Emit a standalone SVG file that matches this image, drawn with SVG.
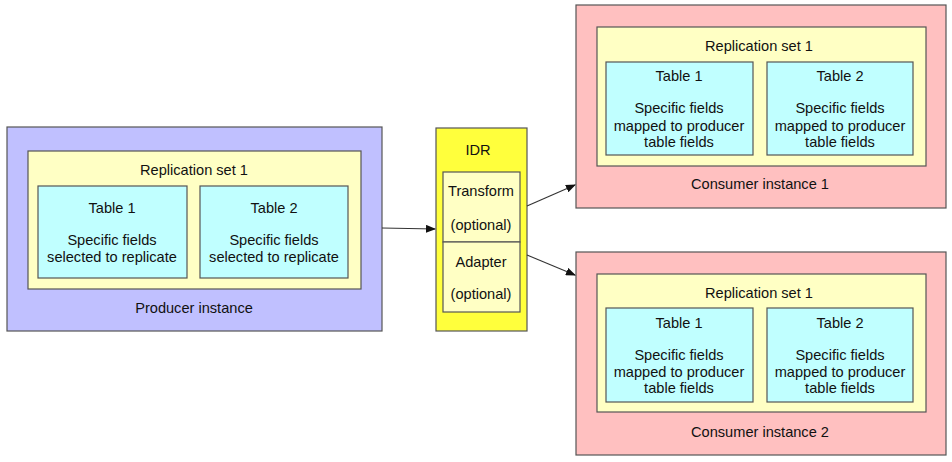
<svg xmlns="http://www.w3.org/2000/svg" width="952" height="462" viewBox="0 0 952 462">
<style>
.box{stroke:#555;stroke-width:1.2}
.prod{fill:#c0c0ff}
.cons{fill:#ffc0c0}
.set{fill:#ffffc4}
.tbl{fill:#c0ffff}
.idr{fill:#ffff3c}
.idrin{fill:#ffffc4}
text{font-family:"Liberation Sans",Arial,Helvetica,sans-serif;font-size:14.6px;fill:#111;text-anchor:middle}
.conn{stroke:#333;stroke-width:1.1;fill:none;marker-end:url(#ah)}
</style>
<defs>
<marker id="ah" markerWidth="10" markerHeight="8" refX="9" refY="4" orient="auto" markerUnits="userSpaceOnUse">
<path d="M0,0 L10,4 L0,8 Z" fill="#111"/>
</marker>
</defs>
<rect width="952" height="462" fill="#fff"/>
<g id="producer">
<rect class="box prod" x="7" y="127" width="375" height="204"/>
<rect class="box set" x="28" y="151" width="333" height="138"/>
<text x="194" y="175">Replication set 1</text>
<rect class="box tbl" x="38" y="186" width="149" height="92"/>
<text x="112" y="213">Table 1</text>
<text x="112" y="245">Specific fields</text>
<text x="112" y="262">selected to replicate</text>
<rect class="box tbl" x="200" y="186" width="148" height="92"/>
<text x="274" y="213">Table 2</text>
<text x="274" y="245">Specific fields</text>
<text x="274" y="262">selected to replicate</text>
<text x="194" y="313">Producer instance</text>
</g>
<g id="idr">
<rect class="box idr" x="436" y="128" width="91" height="203"/>
<text x="478" y="155">IDR</text>
<rect class="box idrin" x="443" y="172" width="77" height="70"/>
<text x="481" y="196">Transform</text>
<text x="481" y="230">(optional)</text>
<rect class="box idrin" x="443" y="242" width="77" height="70"/>
<text x="481" y="267">Adapter</text>
<text x="481" y="299">(optional)</text>
</g>
<g id="consumer1">
<rect class="box cons" x="576" y="5" width="370" height="203"/>
<rect class="box set" x="597" y="27" width="329" height="139"/>
<text x="759" y="51">Replication set 1</text>
<rect class="box tbl" x="606" y="62" width="147" height="93"/>
<text x="679" y="81">Table 1</text>
<text x="679" y="113">Specific fields</text>
<text x="679" y="131">mapped to producer</text>
<text x="679" y="147">table fields</text>
<rect class="box tbl" x="767" y="62" width="146" height="93"/>
<text x="840" y="81">Table 2</text>
<text x="840" y="113">Specific fields</text>
<text x="840" y="131">mapped to producer</text>
<text x="840" y="147">table fields</text>
<text x="760" y="189">Consumer instance 1</text>
</g>
<g id="consumer2">
<rect class="box cons" x="576" y="252" width="370" height="203"/>
<rect class="box set" x="597" y="274" width="329" height="138"/>
<text x="759" y="298">Replication set 1</text>
<rect class="box tbl" x="606" y="308" width="147" height="94"/>
<text x="679" y="328">Table 1</text>
<text x="679" y="360">Specific fields</text>
<text x="679" y="377">mapped to producer</text>
<text x="679" y="393">table fields</text>
<rect class="box tbl" x="767" y="308" width="146" height="94"/>
<text x="840" y="328">Table 2</text>
<text x="840" y="360">Specific fields</text>
<text x="840" y="377">mapped to producer</text>
<text x="840" y="393">table fields</text>
<text x="760" y="437">Consumer instance 2</text>
</g>
<g id="connectors">
<line class="conn" x1="382" y1="228" x2="435" y2="229"/>
<line class="conn" x1="527" y1="206" x2="575" y2="185"/>
<line class="conn" x1="527" y1="255" x2="575" y2="275"/>
</g>
</svg>
